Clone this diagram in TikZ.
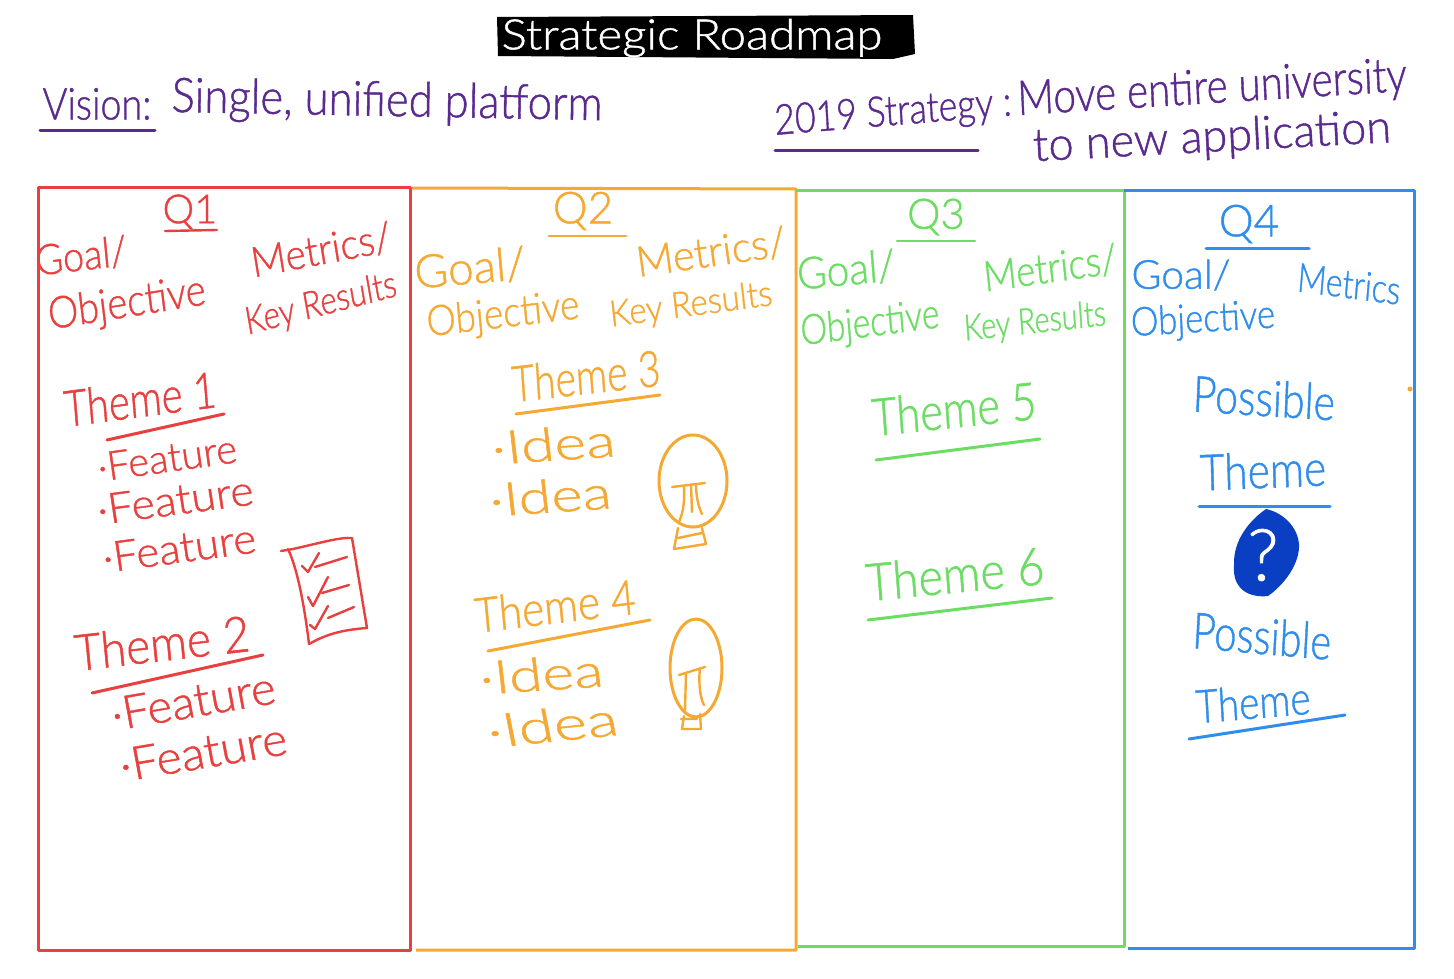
\documentclass[tikz,border=0pt]{standalone}
\usepackage{fontspec}
\setmainfont{Lato Light}[FakeBold=1]
\definecolor{cred}{HTML}{E8403F}
\definecolor{corange}{HTML}{F5A933}
\definecolor{cgreen}{HTML}{6BDD63}
\definecolor{cblue}{HTML}{2F8DEB}
\definecolor{cpurple}{HTML}{5A2A8E}
\definecolor{cnavy}{HTML}{0A3FC4}
\tikzset{
 hw/.style={inner sep=0pt,outer sep=0pt,text=#1,anchor=center},
 fs/.style={font=\fontsize{#1}{#1}\selectfont},
 frame/.style={draw=#1,line width=3pt,line join=round},
 pen/.style={draw=#1,line width=3pt,line cap=round,line join=round},
 thin pen/.style={draw=#1,line width=2.4pt,line cap=round,line join=round},
}
\begin{document}
\begin{tikzpicture}[x=1pt,y=-1pt]
\useasboundingbox (0,0) rectangle (1454,979);
\fill[white] (0,0) rectangle (1454,979);
% frames
\draw[frame=corange] (412,188) -- (796,189) -- (796,950) -- (416,950);
\draw[frame=cgreen] (796,190) -- (1124,190) -- (1124,946) -- (798,946);
\draw[frame=cblue] (1124,190) -- (1414,190) -- (1414,948) -- (1128,948);
\draw[frame=cred] (38,187) -- (410,187) -- (410,950) -- (38,950) -- cycle;
\fill[corange] (1410,389) circle (2.5);
% title
\fill[black] (497,17) -- (913,15) -- (915,54) -- (893,59) -- (498,56) -- cycle;
\node[hw=white,fs=42,xscale=1.13] (title) at (692,38) {Strategic Roadmap};
% vision
\node[hw=cpurple,fs=44,xscale=.86] (vision) at (97,104) {Vision:};
\draw[pen=cpurple] (40,131) -- (155,131);
\node[hw=cpurple,fs=48,xscale=.91,rotate=-1] (single) at (387,103) {Single, unified platform};
\node[hw=cpurple,fs=42,xscale=.85,rotate=4] (strategy) at (893,114) {2019 Strategy :};
\draw[pen=cpurple] (775,151) -- (978,151);
\node[hw=cpurple,fs=48,xscale=.84,rotate=3] (move) at (1212,90) {Move entire university};
\node[hw=cpurple,fs=46,xscale=.98,rotate=3] (to) at (1212,139) {to new application};
% Q1
\node[hw=cred,fs=40] (q1) at (190,212) {Q1};
\draw[thin pen=cred] (165,231) -- (217,230);
\node[hw=cred,fs=42,xscale=.9,rotate=6] (g1) at (81,256) {Goal/};
\node[hw=cred,fs=44,xscale=.87,rotate=8] (o1) at (127,305) {Objective};
\node[hw=cred,fs=42,xscale=.92,rotate=10] (m1) at (321,250) {Metrics/};
\node[hw=cred,fs=38,xscale=.82,rotate=12] (k1) at (321,305) {Key Results};
\node[hw=cred,fs=50,xscale=.8,rotate=6] (t1) at (140,399) {Theme 1};
\draw[pen=cred] (107,440) -- (224,414);
\node[hw=cred,fs=40,xscale=1,rotate=8] (f1) at (167,458) {·Feature};
\node[hw=cred,fs=42,xscale=1.07,rotate=8] (f2) at (175,500) {·Feature};
\node[hw=cred,fs=42,xscale=1.05,rotate=8] (f3) at (179,548) {·Feature};
\node[hw=cred,fs=50,xscale=.92,rotate=6] (t2) at (162,643) {Theme 2};
\draw[pen=cred] (92,693) -- (263,655);
\node[hw=cred,fs=46,xscale=1.03,rotate=10] (f4) at (193,701) {·Feature};
\node[hw=cred,fs=46,xscale=1.05,rotate=10] (f5) at (203,752) {·Feature};
% checklist
\draw[thin pen=cred] (281,551) -- (293,549) .. controls (320,543) and (340,537) .. (352,538) -- (367,628) .. controls (340,630) and (325,635) .. (309,644) .. controls (305,610) and (298,570) .. (288,549);
\draw[thin pen=cred] (302,566) -- (308,572) -- (319,553) (315,567) -- (347,557);
\draw[thin pen=cred] (308,597) -- (313,606) -- (328,577) (322,593) -- (349,585);
\draw[thin pen=cred] (310,625) -- (315,629) -- (328,606) (328,618) -- (354,607);
% Q2
\node[hw=corange,fs=44] (q2) at (583,211) {Q2};
\draw[thin pen=corange] (549,236) -- (626,236);
\node[hw=corange,fs=46,xscale=1,rotate=5] (g2) at (470,268) {Goal/};
\node[hw=corange,fs=42,xscale=.88,rotate=6] (o2) at (503,316) {Objective};
\node[hw=corange,fs=42,xscale=.98,rotate=8] (m2) at (711,252) {Metrics/};
\node[hw=corange,fs=36,xscale=.92,rotate=7] (k2) at (691,306) {Key Results};
\node[hw=corange,fs=50,xscale=.78,rotate=5] (t3) at (586,376) {Theme 3};
\draw[pen=corange] (516,414) -- (660,395);
\node[hw=corange,fs=46,xscale=1.32,rotate=5] (i1) at (553,444) {·Idea};
\node[hw=corange,fs=46,xscale=1.3,rotate=5] (i2) at (550,496) {·Idea};
\node[hw=corange,fs=48,xscale=.88,rotate=6] (t4) at (555,606) {Theme 4};
\draw[pen=corange] (488,651) -- (650,620);
\node[hw=corange,fs=46,xscale=1.32,rotate=5] (i3) at (541,674) {·Idea};
\node[hw=corange,fs=46,xscale=1.4,rotate=8] (i4) at (552,725) {·Idea};
% bulbs
\draw[pen=corange] (693,481) ellipse [x radius=34,y radius=46];
\draw[thin pen=corange] (672,487) -- (705,483) (684,487) .. controls (685,505) and (682,515) .. (679,522) (696,484) .. controls (696,500) and (700,510) .. (702,514) (691,484) -- (692,512);
\draw[thin pen=corange] (678,528) -- (674,549) -- (706,544) -- (702,528) (678,538) -- (702,533);
\draw[pen=corange] (696,668) ellipse [x radius=26,y radius=49];
\draw[thin pen=corange] (679,675) -- (705,667) (686,673) -- (685,710) (700,668) .. controls (698,685) and (701,700) .. (704,705);
\draw[thin pen=corange] (684,716) -- (682,729) -- (701,729) -- (700,714) (681,719) -- (697,719);
% Q3
\node[hw=cgreen,fs=42] (q3) at (936,217) {Q3};
\draw[thin pen=cgreen] (897,241) -- (975,241);
\node[hw=cgreen,fs=44,xscale=.92,rotate=5] (g3) at (846,270) {Goal/};
\node[hw=cgreen,fs=42,xscale=.8,rotate=6] (o3) at (870,325) {Objective};
\node[hw=cgreen,fs=42,xscale=.87,rotate=7] (m3) at (1050,268) {Metrics/};
\node[hw=cgreen,fs=36,xscale=.8,rotate=5] (k3) at (1035,323) {Key Results};
\node[hw=cgreen,fs=52,xscale=.83,rotate=5] (t5) at (954,409) {Theme 5};
\draw[pen=cgreen] (876,460) -- (1040,439);
\node[hw=cgreen,fs=52,xscale=.9,rotate=5] (t6) at (955,574) {Theme 6};
\draw[pen=cgreen] (868,620) -- (1052,598);
% Q4
\node[hw=cblue,fs=44] (q4) at (1249,224) {Q4};
\draw[pen=cblue] (1206,248) -- (1309,248);
\node[hw=cblue,fs=40,xscale=1.02] (g4) at (1181,275) {Goal/};
\node[hw=cblue,fs=40,xscale=.87,rotate=3] (o4) at (1203,321) {Objective};
\node[hw=cblue,fs=40,xscale=.8,rotate=-6] (m4) at (1349,284) {Metrics};
\node[hw=cblue,fs=50,xscale=.82,rotate=-3] (p1) at (1264,398) {Possible};
\node[hw=cblue,fs=50,xscale=.85,rotate=2] (t7) at (1263,470) {Theme};
\draw[pen=cblue] (1199,506) -- (1330,506);
\fill[cnavy] (1266,509) .. controls (1285,513) and (1300,530) .. (1299,548) .. controls (1298,565) and (1285,584) .. (1268,596) .. controls (1250,598) and (1232,590) .. (1234,565) .. controls (1233,540) and (1250,520) .. (1266,509) -- cycle;
\node[hw=white,fs=72] (qm) at (1263,555) {?};
\node[hw=cblue,fs=50,xscale=.8,rotate=-4] (p2) at (1262,636) {Possible};
\node[hw=cblue,fs=46,xscale=.84,rotate=4] (t8) at (1253,702) {Theme};
\draw[pen=cblue] (1189,739) -- (1345,715);
\end{tikzpicture}
\end{document}
